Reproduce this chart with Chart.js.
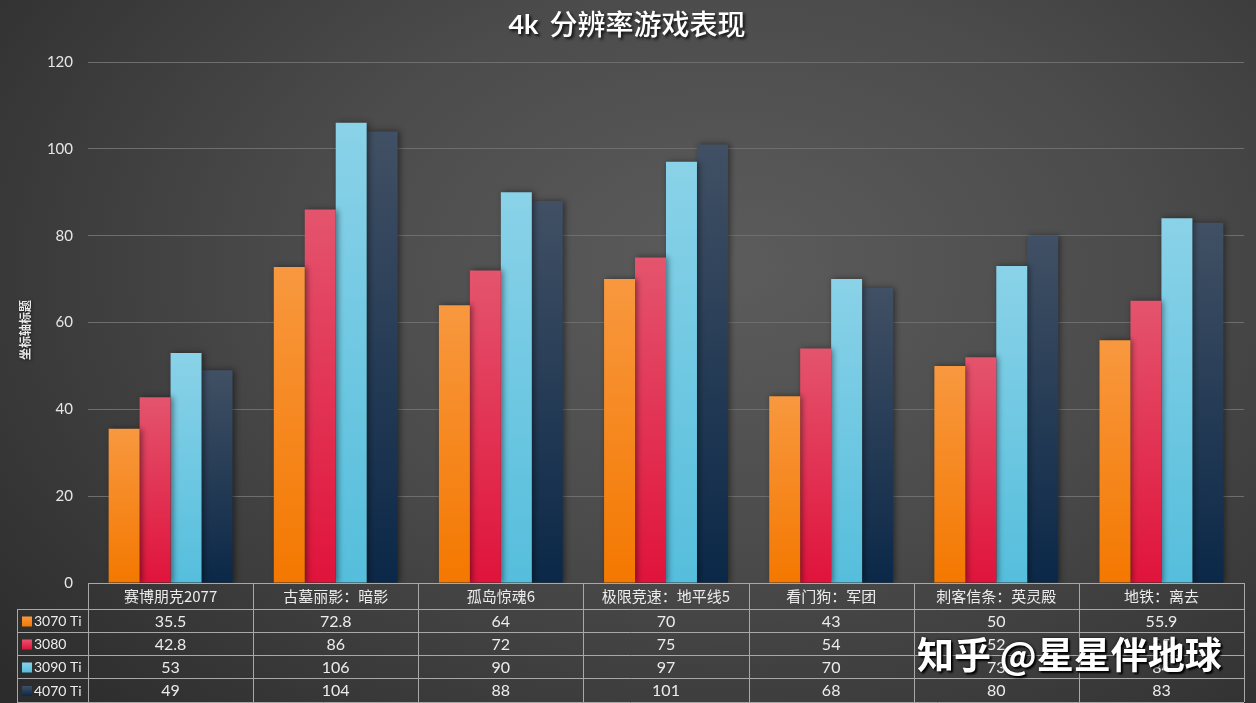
<!DOCTYPE html>
<html>
<head>
<meta charset="utf-8">
<script src="https://cdn.jsdelivr.net/npm/chart.js@4"></script>
<style>
    html, body { margin: 0; padding: 0; }
    body {
        width: 1256px; height: 703px; overflow: hidden; position: relative;
        background: radial-gradient(ellipse 75% 90% at 58% 38%, #5c5c5c 0%, #4b4b4b 45%, #2c2c2c 100%);
    }
    #wrap { position: absolute; left: 0; top: 0; width: 1256px; height: 703px; }
    #mark {
        position: absolute; left: 917px; top: 626px;
        font: bold 37px "Noto Sans CJK SC", sans-serif; color: #fff;
        text-shadow: 2px 2px 2px rgba(0,0,0,0.95), 0 0 3px rgba(0,0,0,0.7); white-space: nowrap;
    }
</style>
</head>
<body>
<div id="wrap"><canvas id="gameChart"></canvas></div>
<div id="mark">知乎 @星星伴地球</div>
<script>
const TITLE_HEAD = '4k';
const TITLE_TAIL = '分辨率游戏表现';
const Y_TITLE = '坐标轴标题';
const GAMES = ['赛博朋克2077', '古墓丽影：暗影', '孤岛惊魂6', '极限竞速：地平线5', '看门狗：军团', '刺客信条：英灵殿', '地铁：离去'];
const SERIES = ['3070 Ti', '3080', '3090 Ti', '4070 Ti'];
const GPU_3070TI = [35.5, 72.8, 64, 70, 43, 50, 55.9];
const GPU_3080 = [42.8, 86, 72, 75, 54, 52, 65];
const GPU_3090TI = [53, 106, 90, 97, 70, 73, 84];
const GPU_4070TI = [49, 104, 88, 101, 68, 80, 83];
const Y_TICKS = [0, 20, 40, 60, 80, 100, 120];

// 막대 색 (위, 아래)
const COLORS = [
    ['#f8983f', '#f47800'],
    ['#e4546d', '#e0133b'],
    ['#8ad2e8', '#55bedc'],
    ['#415064', '#0b2848']
];

const FONT = 'Lato, "Noto Sans CJK SC", sans-serif';

function barGradient(ctx, idx) {
    const chart = ctx.chart;
    if (!chart.chartArea || ctx.type !== 'data') return COLORS[idx][1];
    const yScale = chart.scales.y;
    const top = yScale.getPixelForValue(ctx.raw);
    const bottom = yScale.getPixelForValue(0);
    const g = chart.ctx.createLinearGradient(0, top, 0, bottom);
    g.addColorStop(0, COLORS[idx][0]);
    g.addColorStop(1, COLORS[idx][1]);
    return g;
}

function makeDataset(label, values, idx) {
    return {
        label: label,
        data: values,
        backgroundColor: (ctx) => barGradient(ctx, idx),
        borderWidth: 0,
        categoryPercentage: 0.75,
        barPercentage: 1.0
    };
}

// 제목, 축 제목, 데이터 표 그리기
const tablePlugin = {
    id: 'dataTable',
    beforeDatasetsDraw(chart) {
        chart.ctx.save();
        chart.ctx.shadowColor = 'rgba(0,0,0,0.45)';
        chart.ctx.shadowBlur = 6;
        chart.ctx.shadowOffsetX = 2;
    },
    afterDatasetsDraw(chart) {
        chart.ctx.restore();
    },
    afterDraw(chart) {
        const ctx = chart.ctx;
        const area = chart.chartArea;
        const x = chart.scales.x;
        const colW = (area.right - area.left) / GAMES.length;
        const rows = [area.bottom, 609, 632, 655, 678, 702];
        const labelLeft = 17;

        ctx.save();
        // title
        ctx.textBaseline = 'middle';
        ctx.textAlign = 'left';
        ctx.shadowColor = 'rgba(0,0,0,0.8)';
        ctx.shadowOffsetX = 2;
        ctx.shadowOffsetY = 2;
        ctx.shadowBlur = 3;
        ctx.fillStyle = '#ffffff';
        const headFont = 'bold 27px ' + FONT;
        const tailFont = '500 28px "Noto Sans CJK SC", sans-serif';
        ctx.font = headFont;
        const wHead = ctx.measureText(TITLE_HEAD).width;
        ctx.font = tailFont;
        const wTail = ctx.measureText(TITLE_TAIL).width;
        const gap = 11;
        let tx = 627 - (wHead + gap + wTail) / 2;
        ctx.font = headFont;
        ctx.fillText(TITLE_HEAD, tx, 25);
        ctx.font = tailFont;
        ctx.fillText(TITLE_TAIL, tx + wHead + gap, 24);

        // y title
        ctx.save();
        ctx.translate(25, 330);
        ctx.rotate(-Math.PI / 2);
        ctx.textAlign = 'center';
        ctx.font = 'bold 12px "Noto Sans CJK SC", sans-serif';
        ctx.shadowColor = 'rgba(0,0,0,0.6)';
        ctx.shadowOffsetX = 1;
        ctx.shadowOffsetY = 1;
        ctx.fillStyle = '#e8e8e8';
        ctx.fillText(Y_TITLE, 0, 0);
        ctx.restore();

        ctx.shadowColor = 'transparent';

        // grid lines of the table
        ctx.strokeStyle = '#a8a8a8';
        ctx.lineWidth = 1;
        ctx.beginPath();
        ctx.moveTo(area.left, rows[0] + 0.5);
        ctx.lineTo(area.right, rows[0] + 0.5);
        for (let r = 1; r < rows.length; r++) {
            ctx.moveTo(labelLeft, rows[r] + 0.5);
            ctx.lineTo(area.right, rows[r] + 0.5);
        }
        ctx.moveTo(labelLeft + 0.5, rows[1]);
        ctx.lineTo(labelLeft + 0.5, rows[rows.length - 1]);
        for (let i = 0; i <= GAMES.length; i++) {
            const bx = Math.round(area.left + i * colW) + 0.5;
            ctx.moveTo(bx, rows[0]);
            ctx.lineTo(bx, rows[rows.length - 1]);
        }
        ctx.stroke();

        // header text
        ctx.fillStyle = '#ececec';
        ctx.textAlign = 'center';
        ctx.textBaseline = 'middle';
        ctx.font = '15px "Noto Sans CJK SC", sans-serif';
        GAMES.forEach((g, i) => {
            ctx.fillText(g, x.getPixelForValue(i), (rows[0] + rows[1]) / 2);
        });

        // body
        chart.data.datasets.forEach((ds, r) => {
            const cy = (rows[r + 1] + rows[r + 2]) / 2 + 1;
            const sg = ctx.createLinearGradient(0, cy - 5, 0, cy + 5);
            sg.addColorStop(0, COLORS[r][0]);
            sg.addColorStop(1, COLORS[r][1]);
            ctx.fillStyle = sg;
            ctx.fillRect(22, cy - 5, 10, 10);
            ctx.fillStyle = '#ececec';
            ctx.textAlign = 'left';
            ctx.font = '14px ' + FONT;
            ctx.fillText(ds.label, 34, cy);
            ctx.textAlign = 'center';
            ctx.font = '16px ' + FONT;
            ds.data.forEach((v, i) => {
                ctx.fillText(String(v), x.getPixelForValue(i), cy);
            });
        });
        ctx.restore();
    }
};

const config = {
    type: 'bar',
    data: {
        labels: GAMES,
        datasets: [
            makeDataset(SERIES[0], GPU_3070TI, 0),
            makeDataset(SERIES[1], GPU_3080, 1),
            makeDataset(SERIES[2], GPU_3090TI, 2),
            makeDataset(SERIES[3], GPU_4070TI, 3)
        ]
    },
    options: {
        responsive: true,
        maintainAspectRatio: false,
        animation: false,
        layout: {
            padding: { left: 0, right: 12, top: 62, bottom: 120 }
        },
        plugins: {
            legend: { display: false },
            title: { display: false },
            tooltip: { enabled: false }
        },
        scales: {
            x: {
                display: false
            },
            y: {
                min: 0,
                max: 120,
                afterFit(scale) { scale.width = 88; },
                afterBuildTicks(scale) { scale.ticks = Y_TICKS.map(v => ({ value: v })); },
                border: { display: false },
                grid: { color: '#6e6e6e', lineWidth: 1, drawTicks: false },
                ticks: {
                    color: '#e6e6e6',
                    padding: 15,
                    font: { family: FONT, size: 15 }
                }
            }
        }
    },
    plugins: [tablePlugin]
};

var chart = new Chart('gameChart', config);
</script>
</body>
</html>
